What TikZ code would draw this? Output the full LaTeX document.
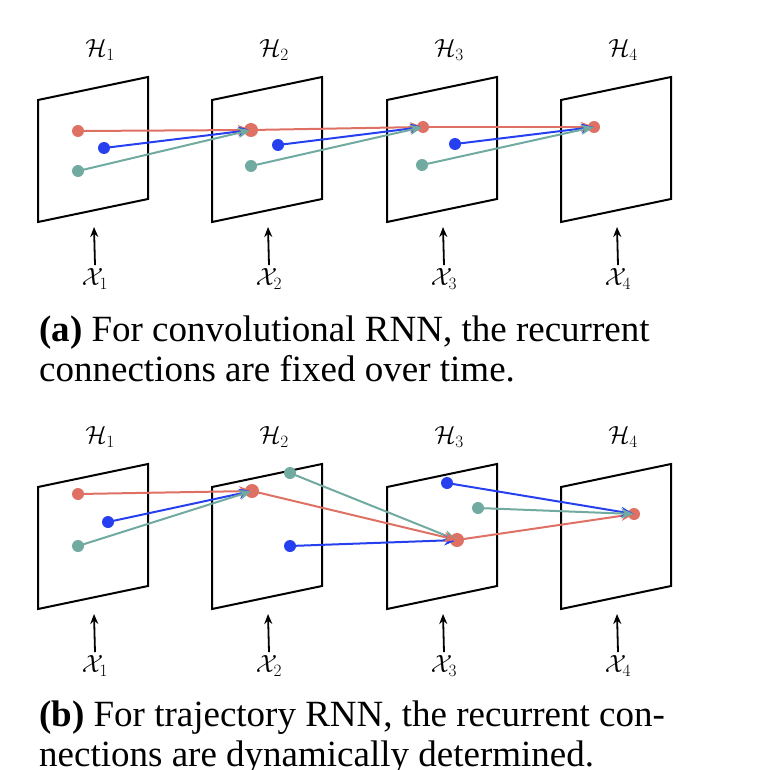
\documentclass[tikz,border=0pt]{standalone}
\usepackage{fontspec}
\setmainfont{Liberation Serif}
\usetikzlibrary{arrows.meta}
\definecolor{cr}{RGB}{222,112,100}
\definecolor{cb}{RGB}{38,64,240}
\definecolor{cg}{RGB}{112,170,160}
\begin{document}
\begin{tikzpicture}[x=1pt,y=-1pt,
  frame/.style={line width=2pt},
  dot/.style={circle,inner sep=0pt,minimum size=12pt},
  big/.style={circle,inner sep=0pt,minimum size=14pt},
  con/.style={line width=2pt,-{Stealth[length=13pt,width=10pt,inset=4pt]},shorten <=-3pt},
  inp/.style={line width=1.8pt,-{Stealth[length=10pt,width=8pt]}},
  lab/.style={font=\fontsize{25}{28}\selectfont},
  captxt/.style={anchor=north west,align=left,inner sep=0pt,font=\fontsize{37}{40}\selectfont}]
\useasboundingbox (0,0) rectangle (756,770);
\foreach \oy/\p in {0/a,387/b}{
 \foreach \i/\x in {1/38,2/212,3/387,4/561}{
  \draw[frame] (\x,100+\oy) -- (\x+110,77+\oy) -- (\x+110,199+\oy) -- (\x,222+\oy) -- cycle;
  \node[lab] (h\p\i) at (\x+62,50+\oy) {$\mathcal{H}_{\i}$};
  \node[lab] (x\p\i) at (\x+57,279+\oy) {$\mathcal{X}_{\i}$};
  \coordinate (t\p\i) at (\x+56,227+\oy);
  \draw[inp] (x\p\i.north) -- (t\p\i);
 }}
% panel a
\node[dot,fill=cr] (ar1) at (78,131) {};
\node[dot,fill=cb] (ab1) at (104,148) {};
\node[dot,fill=cg] (ag1) at (78,171) {};
\node[big,fill=cr] (ar2) at (251,130) {};
\node[dot,fill=cb] (ab2) at (278,145) {};
\node[dot,fill=cg] (ag2) at (251,166) {};
\node[dot,fill=cr] (ar3) at (423,127) {};
\node[dot,fill=cb] (ab3) at (455,144) {};
\node[dot,fill=cg] (ag3) at (422,165) {};
\node[dot,fill=cr] (ar4) at (594,127) {};
\draw[con,cr] (ar1.center) -- (ar2.center);
\draw[con,cb] (ab1.center) -- (ar2.center);
\draw[con,cg] (ag1.center) -- (ar2.center);
\draw[con,cr] (ar2.center) -- (ar3.center);
\draw[con,cb] (ab2.center) -- (ar3.center);
\draw[con,cg] (ag2.center) -- (ar3.center);
\draw[con,cr] (ar3.center) -- (ar4.center);
\draw[con,cb] (ab3.center) -- (ar4.center);
\draw[con,cg] (ag3.center) -- (ar4.center);
% panel b
\node[dot,fill=cr] (br1) at (78,494) {};
\node[dot,fill=cb] (bb1) at (108,522) {};
\node[dot,fill=cg] (bg1) at (78,546) {};
\node[big,fill=cr] (br2) at (252,491) {};
\node[dot,fill=cg] (bg2) at (290,473) {};
\node[dot,fill=cb] (bb2) at (290,546) {};
\node[big,fill=cr] (br3) at (457,540) {};
\node[dot,fill=cb] (bb3) at (447,483) {};
\node[dot,fill=cg] (bg3) at (478,508) {};
\node[dot,fill=cr] (br4) at (634,514) {};
\draw[con,cr] (br1.center) -- (br2.center);
\draw[con,cb] (bb1.center) -- (br2.center);
\draw[con,cg] (bg1.center) -- (br2.center);
\draw[con,cg] (bg2.center) -- (br3.center);
\draw[con,cb] (bb2.center) -- (br3.center);
\draw[con,cr] (br2.center) -- (br3.center);
\draw[con,cr] (br3.center) -- (br4.center);
\draw[con,cb] (bb3.center) -- (br4.center);
\draw[con,cg] (bg3.center) -- (br4.center);
\node[captxt] (ca) at (39,316) {\textbf{(a)} For convolutional RNN, the recurrent\\connections are fixed over time.};
\node[captxt] (cb) at (39,701) {\textbf{(b)} For trajectory RNN, the recurrent con-\\nections are dynamically determined.};
\end{tikzpicture}
\end{document}
